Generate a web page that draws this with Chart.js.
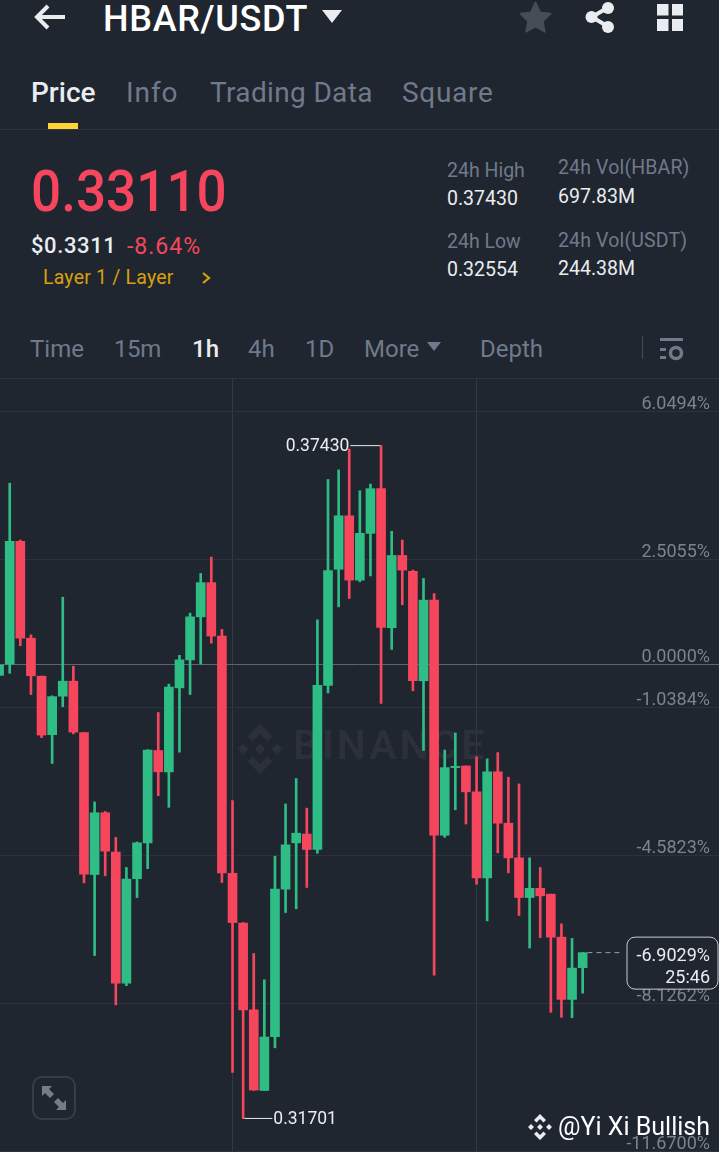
<!DOCTYPE html>
<html>
<head>
<meta charset="utf-8">
<script src="https://cdn.jsdelivr.net/npm/chart.js@4/dist/chart.umd.min.js"></script>
<style>
html, body { margin: 0; padding: 0; background: #1f2630; }
body { position: relative; width: 719px; height: 1152px; overflow: hidden; font-family: Roboto, sans-serif; }
.t { position: absolute; white-space: nowrap; line-height: 1; }
.rule { position: absolute; left: 0; width: 719px; height: 1px; background: #2f3540; }
svg { position: absolute; }
canvas { position: absolute; left: 0; top: 378px; }
</style>
</head>
<body>
<!-- header -->
<svg style="left:34px;top:4px" width="34" height="26" viewBox="0 0 34 26"><path d="M14 2 L3 13 L14 24 M3 13 H31" fill="none" stroke="#eaecef" stroke-width="4"/></svg>
<div class="t" style="left:103px;top:1px;font-size:36px;font-weight:500;letter-spacing:.7px;color:#fff">HBAR/USDT</div>
<svg style="left:322px;top:10px" width="20" height="14"><path d="M0 0 H20 L10 13 Z" fill="#eaecef"/></svg>
<svg style="left:519px;top:1px" width="33" height="33" viewBox="0 0 24 24"><path d="M12 1 L15.4 8.2 L23 9.2 L17.4 14.6 L18.8 22.4 L12 18.6 L5.2 22.4 L6.6 14.6 L1 9.2 L8.6 8.2 Z" fill="#474d57" stroke="#474d57" stroke-width="1.2" stroke-linejoin="round"/></svg>
<svg style="left:584px;top:1px" width="32" height="32"><path d="M23 7 L8 16 L23 25" fill="none" stroke="#eaecef" stroke-width="4"/><circle cx="24" cy="7" r="6" fill="#eaecef"/><circle cx="7.500" cy="16" r="6" fill="#eaecef"/><circle cx="24" cy="26" r="6" fill="#eaecef"/></svg>
<svg style="left:656px;top:3px" width="28" height="29"><path d="M1 1 H12.500 V12.500 H1 Z M16 1 H27 V12.500 H16 Z M1 16 H12.500 V28 H1 Z M16 16 H27 V28 H16 Z" fill="#eaecef"/></svg>

<div class="t" style="left:31px;top:79px;font-size:28px;font-weight:500;color:#eaecef">Price</div>
<div class="t" style="left:126px;top:79px;font-size:28px;letter-spacing:.9px;color:#707a8a">Info</div>
<div class="t" style="left:210px;top:79px;font-size:28px;letter-spacing:.35px;color:#707a8a">Trading Data</div>
<div class="t" style="left:402px;top:79px;font-size:28px;letter-spacing:.7px;color:#707a8a">Square</div>
<div style="position:absolute;left:48px;top:123px;width:30px;height:6px;background:#fcd535"></div>
<div class="rule" style="top:129px"></div>

<div class="t" style="left:31px;top:162px;font-size:58px;font-weight:500;color:#f6465d;transform:scaleX(.915);transform-origin:left">0.33110</div>
<div class="t" style="left:31px;top:235px;font-size:22px;font-weight:500;letter-spacing:.6px;color:#eaecef">$0.3311</div>
<div class="t" style="left:127px;top:235px;font-size:23px;letter-spacing:1px;color:#f6465d">-8.64%</div>
<div class="t" style="left:43px;top:268px;font-size:19.500px;letter-spacing:.2px;color:#d8a00c">Layer 1 / Layer</div>
<svg style="left:200px;top:271px" width="12" height="14"><path d="M3 2 L9 7 L3 12" fill="none" stroke="#d8a00c" stroke-width="2.200"/></svg>

<div class="t" style="left:447px;top:161px;font-size:19.500px;color:#707a8a">24h High</div>
<div class="t" style="left:447px;top:189px;font-size:19.500px;color:#eaecef">0.37430</div>
<div class="t" style="left:447px;top:232px;font-size:19.500px;color:#707a8a">24h Low</div>
<div class="t" style="left:447px;top:260px;font-size:19.500px;color:#eaecef">0.32554</div>
<div class="t" style="left:558px;top:158px;font-size:19.500px;letter-spacing:.15px;color:#707a8a">24h Vol(HBAR)</div>
<div class="t" style="left:558px;top:187px;font-size:19.500px;color:#eaecef">697.83M</div>
<div class="t" style="left:558px;top:231px;font-size:19.500px;letter-spacing:.15px;color:#707a8a">24h Vol(USDT)</div>
<div class="t" style="left:558px;top:259px;font-size:19.500px;color:#eaecef">244.38M</div>

<div class="t" style="left:30px;top:337px;font-size:24px;color:#707a8a">Time</div>
<div class="t" style="left:114px;top:337px;font-size:24px;letter-spacing:-.4px;color:#707a8a">15m</div>
<div class="t" style="left:192px;top:337px;font-size:24px;font-weight:500;color:#eaecef">1h</div>
<div class="t" style="left:248px;top:337px;font-size:24px;color:#707a8a">4h</div>
<div class="t" style="left:305px;top:337px;font-size:24px;color:#707a8a">1D</div>
<div class="t" style="left:364px;top:337px;font-size:24px;color:#707a8a">More</div>
<svg style="left:427px;top:342px" width="14" height="10"><path d="M0 0 H14 L7 9 Z" fill="#707a8a"/></svg>
<div class="t" style="left:480px;top:337px;font-size:24px;color:#707a8a">Depth</div>
<div style="position:absolute;left:642px;top:336px;width:1px;height:23px;background:#474d57"></div>
<svg style="left:659px;top:336px" width="26" height="26"><path d="M1 2 H24 V5 H1 Z M1 12 H7 V15 H1 Z M1 20 H7 V23 H1 Z" fill="#707a8a"/><circle cx="17" cy="17" r="5.500" fill="none" stroke="#707a8a" stroke-width="3.500"/></svg>
<div class="rule" style="top:378px"></div>

<canvas id="chart" width="719" height="774"></canvas>

<!-- expand button and credit -->
<svg style="left:32px;top:1076px" width="44" height="44"><rect x="1" y="1" width="42" height="42" rx="9" fill="none" stroke="#363c48" stroke-width="2"/><path d="M10 10 H20 L17 13 L22 18 L18 22 L13 17 L10 20 Z M34 34 H24 L27 31 L22 26 L26 22 L31 27 L34 24 Z" fill="#767d8a"/></svg>
<svg style="left:526px;top:1113px" width="28" height="28" viewBox="0 0 28 28"><path d="M14 1 L20 7 L17.500 9.500 L14 6 L10.500 9.500 L8 7 Z M14 27 L20 21 L17.500 18.500 L14 22 L10.500 18.500 L8 21 Z M5 11 L8 14 L5 17 L2 14 Z M23 11 L26 14 L23 17 L20 14 Z M14 11 L17 14 L14 17 L11 14 Z" fill="#eaecef"/></svg>
<div class="t" style="left:558px;top:1114px;font-size:25px;color:#fff">@Yi Xi Bullish</div>

<script>
// percent change per 1h candle
const candleIndex = [0,1,2,3,4,5,6,7,8,9,10,11,12,13,14,15,16,17,18,19,20,21,22,23,24,25,26,27,
    28,29,30,31,32,33,34,35,36,37,38,39,40,41,42,43,44,45,46,47,48,49,50,51,52,53,54,55];
const opens = [-0.26,0.01,2.95,0.63,-0.28,-1.68,-0.76,-0.40,-1.63,-5.03,-3.55,-4.49,-7.63,-5.13,
    -4.27,-2.06,-2.57,-0.56,0.11,1.14,1.96,0.68,-5.00,-6.19,-8.27,-10.20,-8.91,-5.38,
    -4.27,-4.06,-4.43,-0.50,2.28,3.56,2.02,3.14,4.21,0.88,2.61,2.23,-0.39,1.54,
    -4.09,-2.47,-2.43,-3.05,-5.11,-2.57,-3.80,-4.63,-5.58,-5.36,-5.50,-6.53,-8.02,-7.26];
const closes = [-0.01,2.95,0.63,-0.27,-1.69,-0.77,-0.40,-1.62,-5.02,-3.55,-4.47,-7.63,-5.14,-4.27,
    -2.05,-2.57,-0.54,0.11,1.14,1.96,0.68,-4.99,-6.18,-8.27,-10.19,-8.92,-5.38,-4.32,
    -4.04,-4.43,-0.50,2.25,3.56,2.02,3.14,4.21,0.89,2.61,2.26,-0.39,1.54,-4.09,
    -2.47,-2.44,-3.05,-5.11,-2.57,-3.80,-4.63,-5.58,-5.36,-5.54,-6.53,-8.02,-7.27,-6.90];
const highs = [-0.01,4.34,2.98,0.71,-0.28,-0.75,1.61,-0.04,-1.63,-3.29,-3.52,-4.14,-4.86,-4.25,
    -2.04,-1.15,-0.47,0.22,1.23,2.18,2.57,0.84,-3.26,-6.18,-6.92,-7.55,-4.59,-3.34,
    -2.73,-3.44,1.07,4.43,4.66,5.16,4.16,4.32,5.24,3.19,2.98,2.26,2.06,1.70,
    -2.05,-1.64,-2.43,-2.21,-2.26,-2.11,-2.70,-2.86,-4.63,-4.86,-5.50,-6.21,-6.56,-6.90];
const lows = [-0.26,-0.21,0.45,-0.72,-1.75,-2.37,-1.01,-1.66,-5.23,-6.97,-5.06,-8.15,-7.69,-5.58,
    -4.89,-3.14,-3.42,-2.10,-0.72,0.01,0.51,-5.22,-9.77,-10.87,-10.20,-10.20,-9.18,-5.94,
    -5.85,-5.34,-4.52,-0.68,1.38,1.58,1.98,2.12,-0.93,0.36,1.43,-0.63,-2.06,-7.44,
    -4.14,-3.48,-3.82,-5.26,-6.14,-4.51,-4.99,-6.01,-6.79,-6.54,-8.33,-8.45,-8.46,-7.87];

const percentTicks = [6.0494, 2.5055, 0, -1.0384, -4.5823, -8.1262, -11.67];
const tickLabels = ["6.0494%", "2.5055%", "0.0000%", "-1.0384%", "-4.5823%", "-8.1262%", "-11.6700%"];
const timeGridAt = [22, 45];

const highLabel = "0.37430";
const lowLabel = "0.31701";
const lastPercent = -6.90;
const lastLabel = "-6.9029%";
const countdown = "25:46";

const UP = "#2ebd85";
const DOWN = "#f6465d";
const BG = "#1f2630";

const candleColors = candleIndex.map((i) => (closes[i] >= opens[i] ? UP : DOWN));

const watermark = {
    id: "watermark",
    beforeDatasetsDraw(chart) {
        const ctx = chart.ctx;
        ctx.save();
        ctx.fillStyle = "#2b303b";
        ctx.font = "600 41px Roboto, sans-serif";
        ctx.textBaseline = "middle";
        ctx.letterSpacing = "3px";
        ctx.fillText("BINANCE", 293, 371);
        const d = (cx, cy, r) => {
            ctx.beginPath();
            ctx.moveTo(cx, cy - r);
            ctx.lineTo(cx + r, cy);
            ctx.lineTo(cx, cy + r);
            ctx.lineTo(cx - r, cy);
            ctx.fill();
        };
        d(260, 371, 5.5);
        d(243, 371, 5.5);
        d(277, 371, 5.5);
        ctx.strokeStyle = "#2b303b";
        ctx.lineWidth = 7;
        ctx.beginPath();
        ctx.moveTo(250, 361);
        ctx.lineTo(260, 351);
        ctx.lineTo(270, 361);
        ctx.moveTo(250, 381);
        ctx.lineTo(260, 391);
        ctx.lineTo(270, 381);
        ctx.stroke();
        ctx.restore();
    },
};

const annotations = {
    id: "annotations",
    afterDraw(chart) {
        const ctx = chart.ctx;
        const x = chart.scales.x;
        const y = chart.scales.y;
        ctx.save();
        ctx.font = "17.5px Roboto, sans-serif";
        ctx.fillStyle = "#eaecef";
        ctx.textBaseline = "middle";
        ctx.textAlign = "right";
        ctx.fillText(highLabel, x.getPixelForValue(33.1) - 1, y.getPixelForValue(5.24) + 1);
        ctx.textAlign = "left";
        ctx.fillText(lowLabel, x.getPixelForValue(25.75) + 1, y.getPixelForValue(-10.87) + 1);

        // last price tag, drawn over the axis labels
        const top = y.getPixelForValue(lastPercent) - 15.5;
        ctx.beginPath();
        ctx.roundRect(627, top, 91, 52, 8);
        ctx.fillStyle = BG;
        ctx.fill();
        ctx.strokeStyle = "#c9ccd1";
        ctx.lineWidth = 1;
        ctx.stroke();
        ctx.fillStyle = "#eaecef";
        ctx.textAlign = "right";
        ctx.font = "18px Roboto, sans-serif";
        ctx.fillText(lastLabel, 710, top + 19);
        ctx.fillText(countdown, 710, top + 41);
        ctx.restore();
    },
};

new Chart(document.getElementById("chart"), {
    type: "bar",
    data: {
        datasets: [
            {
                label: "wick",
                data: candleIndex.map((i) => ({ x: i, y: [lows[i], highs[i]] })),
                backgroundColor: candleColors,
                barThickness: 2,
                minBarLength: 1,
                grouped: false,
            },
            {
                label: "body",
                data: candleIndex.map((i) => ({ x: i, y: [opens[i], closes[i]] })),
                backgroundColor: candleColors,
                barThickness: 9,
                minBarLength: 1,
                grouped: false,
            },
            {
                type: "line",
                label: "high",
                data: [{ x: 33.1, y: highs[36] }, { x: 36, y: highs[36] }],
                borderColor: "#eaecef",
                borderWidth: 1,
                pointRadius: 0,
            },
            {
                type: "line",
                label: "low",
                data: [{ x: 23, y: lows[23] }, { x: 25.75, y: lows[23] }],
                borderColor: "#eaecef",
                borderWidth: 1,
                pointRadius: 0,
            },
            {
                type: "line",
                label: "last",
                data: [{ x: 55.45, y: lastPercent }, { x: 58.8, y: lastPercent }],
                borderColor: "#9aa0aa",
                borderWidth: 1,
                borderDash: [5, 4],
                pointRadius: 0,
            },
        ],
    },
    options: {
        responsive: false,
        animation: false,
        devicePixelRatio: 1,
        layout: { padding: 0, autoPadding: false },
        plugins: {
            legend: { display: false },
            tooltip: { enabled: false },
        },
        scales: {
            x: {
                type: "linear",
                offset: false,
                min: 0.085,
                max: 67.85,
                afterBuildTicks(scale) {
                    scale.ticks = timeGridAt.map((value) => ({ value }));
                },
                afterFit(scale) {
                    scale.height = 0;
                    scale.paddingLeft = 0;
                    scale.paddingRight = 0;
                },
                grid: { color: "#333945", drawTicks: false, lineWidth: 1, offset: false },
                border: { display: false },
                ticks: { display: false },
            },
            y: {
                position: "right",
                min: -11.674,
                max: 6.86,
                afterBuildTicks(scale) {
                    scale.ticks = percentTicks.map((value) => ({ value }));
                },
                afterFit(scale) {
                    scale.width = 0;
                    scale.paddingTop = 0;
                    scale.paddingBottom = 0;
                },
                grid: {
                    color: (c) => (c.tick && c.tick.value === 0 ? "#5e6470" : "#2c323d"),
                    drawTicks: false,
                    lineWidth: 1,
                },
                border: { display: false },
                ticks: {
                    mirror: true,
                    padding: -9,
                    labelOffset: -7,
                    autoSkip: false,
                    color: "#7b8390",
                    font: { family: "Roboto, sans-serif", size: 18 },
                    callback: (value, index) => tickLabels[index],
                },
            },
        },
    },
    plugins: [watermark, annotations],
});
</script>
</body>
</html>
